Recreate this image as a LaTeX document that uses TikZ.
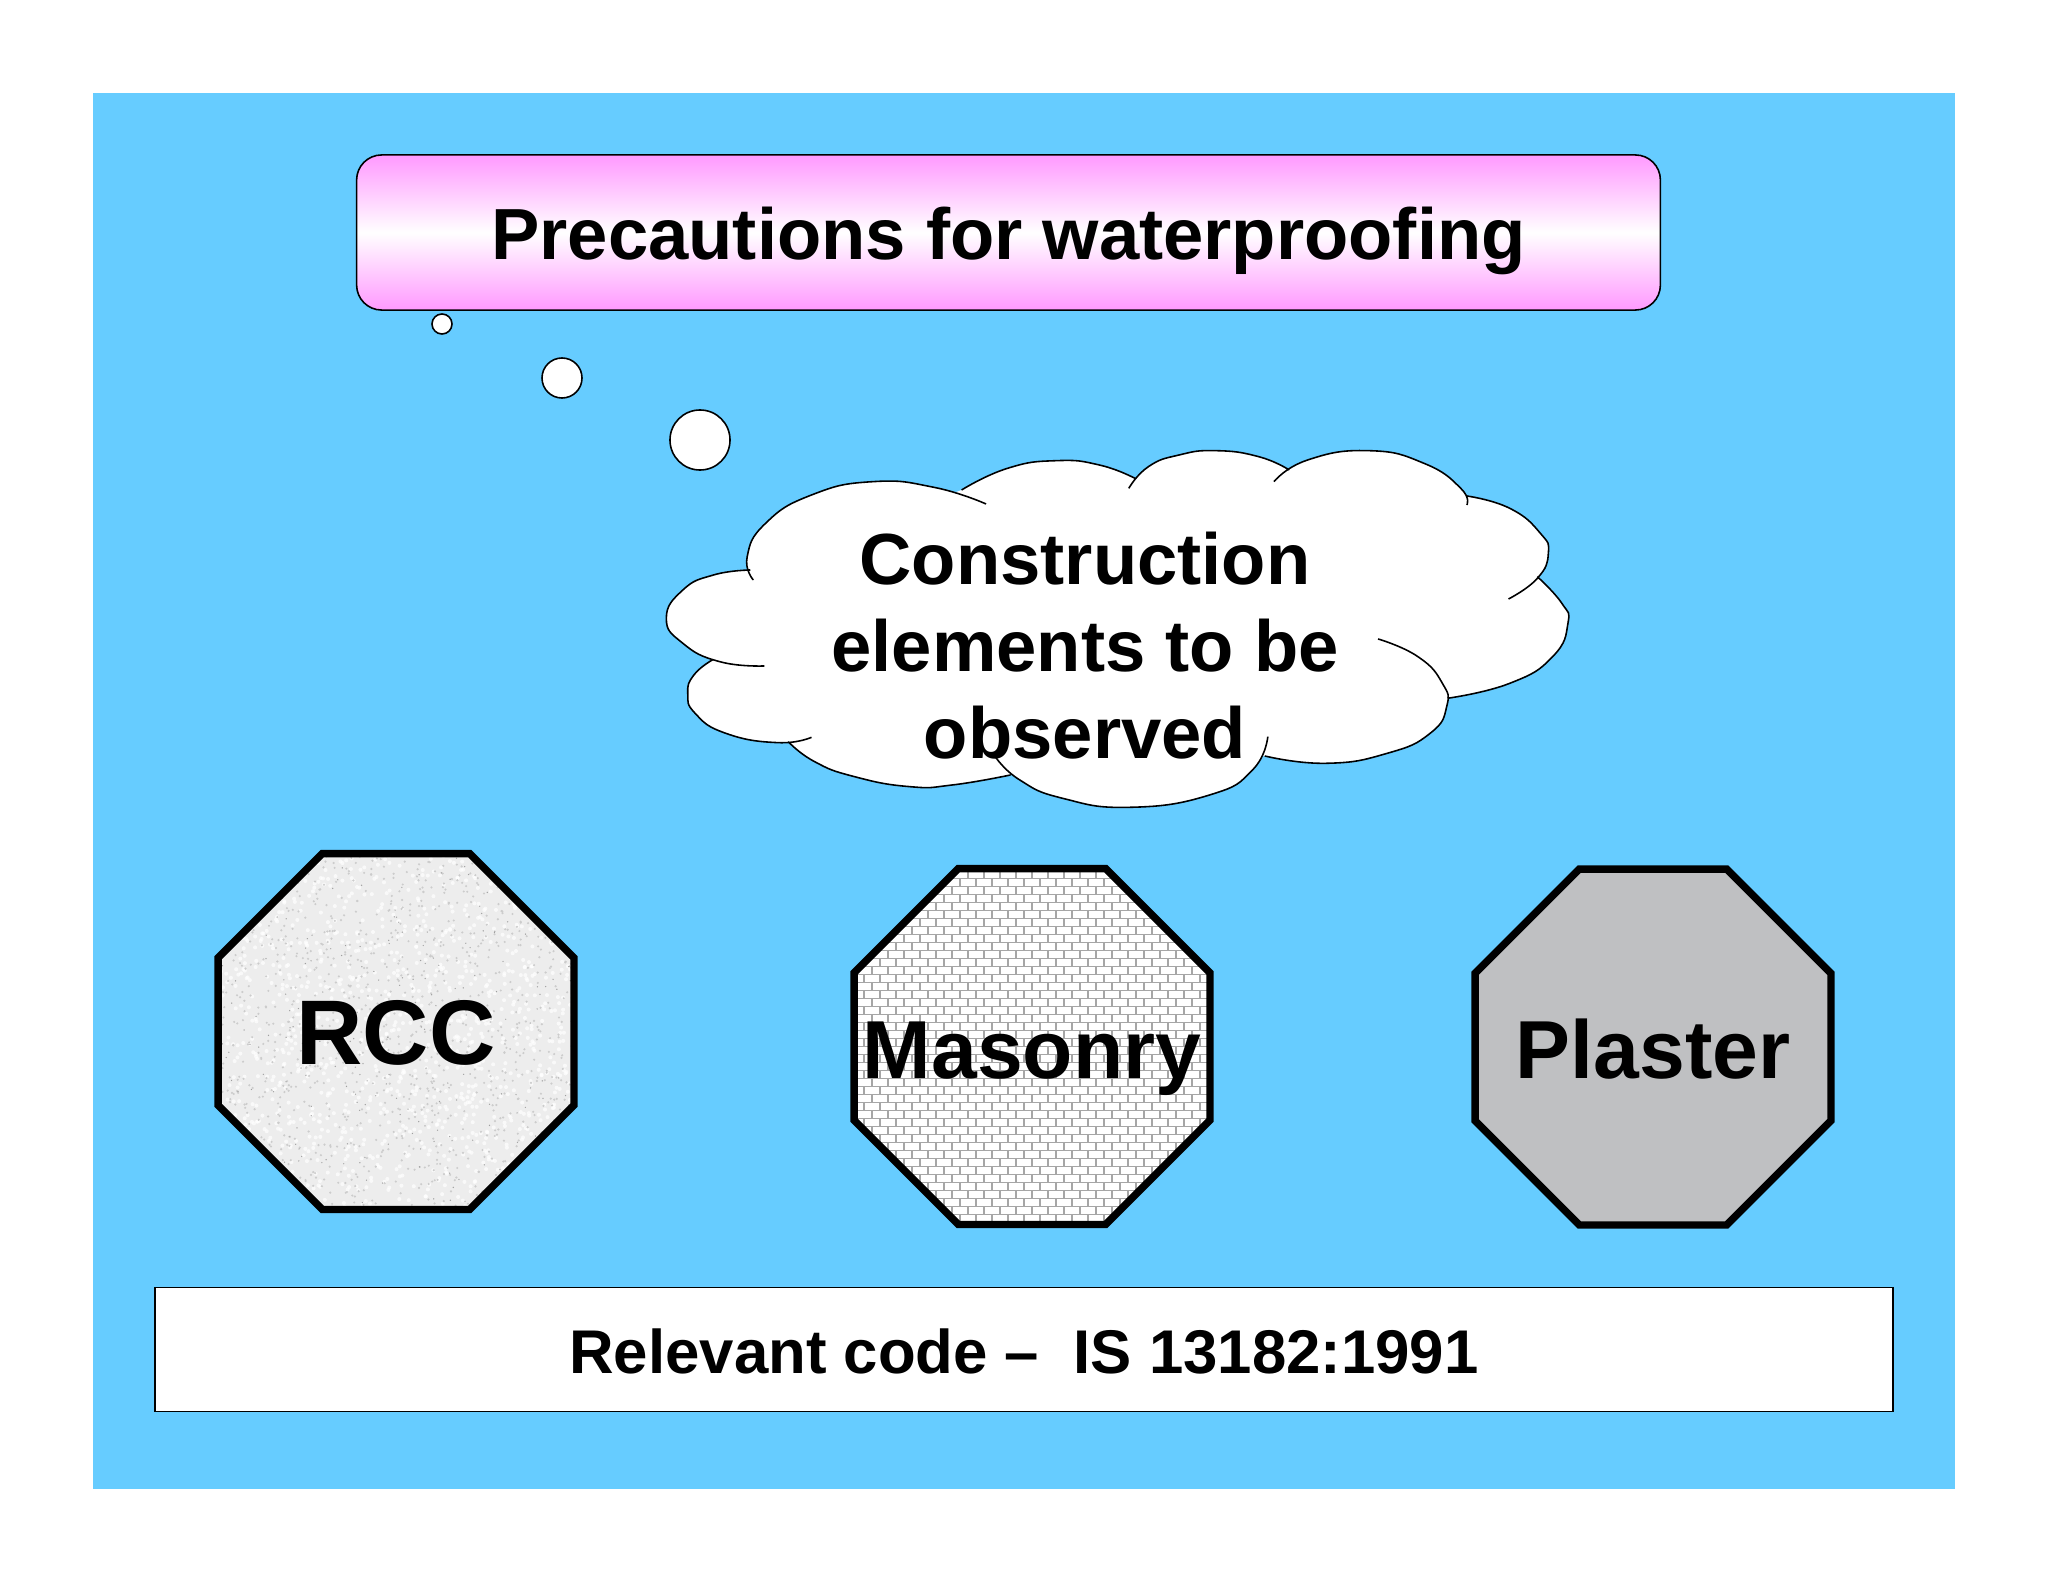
\documentclass[tikz,border=0pt]{standalone}
\usepackage{fontspec}
\setmainfont{Liberation Sans}
\usetikzlibrary{shapes.geometric}
\definecolor{slideblue}{HTML}{66CCFF}
\definecolor{titlepink}{HTML}{FF99FF}
\definecolor{plastergray}{HTML}{BFC0C2}
\definecolor{rccgray}{HTML}{EDEDED}
\definecolor{brickgray}{HTML}{A6A6A6}
\tikzset{
  outline/.style={draw=black,line width=0.45pt},
  bubble/.style={outline,circle,fill=white,inner sep=0pt},
  element/.style={draw=black,line width=2.1pt,regular polygon,regular polygon sides=8,
    minimum size=3.85cm,inner sep=0pt},
  elementtext/.style={inner sep=0pt,text height=18pt,text depth=0pt,
    font=\fontsize{23.4}{28}\selectfont\bfseries},
  brickline/.style={brickgray,line width=0.4pt},
  lobe/.style={smooth,tension=0.85}
}
% Lobes of the cloud, typed on a 1.633 x 3 grid
\newcommand{\cloudlobes}{
  plot[lobe] coordinates {(185,540) (175,470) (205,370) (280,285) (380,245) (480,262) (565,312)}
  plot[lobe] coordinates {(525,270) (600,205) (680,182) (750,195) (808,235)}
  plot[lobe] coordinates {(798,265) (830,200) (880,165) (940,152) (1010,170) (1060,210)}
  plot[lobe] coordinates {(1035,245) (1090,180) (1190,152) (1280,190) (1340,265) (1350,315)}
  plot[lobe] coordinates {(1350,288) (1420,325) (1470,400) (1483,460) (1465,535) (1418,597)}
  plot[lobe] coordinates {(1465,530) (1505,610) (1515,670) (1490,770) (1420,850) (1318,895)}
  plot[lobe] coordinates {(1205,717) (1270,770) (1310,850) (1317,920) (1290,1000) (1220,1060) (1120,1090) (1020,1068)}
  plot[lobe] coordinates {(1025,1010) (1000,1110) (930,1185) (800,1222) (690,1195) (620,1140) (580,1070)}
  plot[lobe] coordinates {(605,1125) (510,1155) (440,1160) (350,1130) (285,1085) (242,1025)}
  plot[lobe] coordinates {(280,1012) (225,1028) (140,1000) (90,940) (78,880) (88,825) (118,780)}
  plot[lobe] coordinates {(203,798) (130,785) (70,730) (43,655) (70,570) (120,525) (180,510)}
}
\begin{document}
\begin{tikzpicture}[x=0.01cm,y=-0.01cm]
  \useasboundingbox (0,0) rectangle (2048,1582);
  % Background
  \fill[white] (0,0) rectangle (2048,1582);
  \fill[slideblue] (93,93) rectangle (1955,1489);
  % Title
  \node[outline,rounded corners=0.25cm,top color=titlepink,bottom color=titlepink,middle color=white,
    minimum width=13.03cm,minimum height=1.55cm,inner sep=0pt,text height=15.6pt,text depth=0pt,
    font=\fontsize{20.6}{25}\selectfont\bfseries] (title) at (1008.5,232.5) {Precautions for waterproofing};
  % Thought bubbles
  \node[bubble,minimum size=0.2cm] (dot1) at (442,324) {};
  \node[bubble,minimum size=0.4cm] (dot2) at (562,378) {};
  \node[bubble,minimum size=0.6cm] (dot3) at (700,440) {};
  % Cloud
  \begin{scope}[shift={(640,400)},xscale=0.6125,yscale=0.3333]
    \fill[white] \cloudlobes (180,510) -- (525,270) -- (808,235) -- (1060,210) -- (1350,288) -- (1465,530) -- (1318,895) -- (1020,1068) -- (605,1125) -- (242,1025) -- (118,780) -- cycle;
    \draw[outline] \cloudlobes;
  \end{scope}
  \node[align=center,inner sep=0pt,font=\fontsize{20.6}{24.8}\selectfont\bfseries] (cloudtext) at (1085,645.5) {Construction\\elements to be\\observed};
  % Construction elements
  \node[element,fill=rccgray,path picture={
      \pgfmathsetseed{7}
      \foreach \i in {1,...,1500}
        \fill[white,opacity=0.7] ([shift={(190*rand,190*rand)}]path picture bounding box.center) circle (2);
      \foreach \i in {1,...,1300}
        \fill[gray!40] ([shift={(190*rand,190*rand)}]path picture bounding box.center) circle (1.2);
      \foreach \i in {1,...,300}
        \fill[gray!75] ([shift={(190*rand,190*rand)}]path picture bounding box.center) circle (0.7);
    }] (rcc) at (396,1031.5) {};
  \node[element,fill=white,path picture={
      \foreach \r in {-25,...,24}{
        \draw[brickline] ([shift={(-195,8*\r)}]path picture bounding box.center) -- ++(390,0);
        \pgfmathsetmacro{\off}{8*Mod(\r,2)}
        \foreach \c in {-13,...,12}
          \draw[brickline] ([shift={(16*\c+\off,8*\r)}]path picture bounding box.center) -- ++(0,8);
      }
    }] (masonry) at (1032,1046.5) {};
  \node[element,fill=plastergray] (plaster) at (1653,1047) {};
  \node[elementtext,font=\fontsize{26.1}{31}\selectfont\bfseries,text height=18.7pt] (rcclabel) at (rcc) {RCC};
  \node[elementtext] (masonrylabel) at (masonry) {Masonry};
  \node[elementtext] (plasterlabel) at (plaster) {Plaster};
  % Code reference
  \node[outline,fill=white,minimum width=17.37cm,minimum height=1.24cm,inner sep=0pt,text height=13.4pt,text depth=0pt,
    font=\fontsize{17.55}{22}\selectfont\bfseries] (code) at (1024,1349.5) {Relevant code --\ \ IS 13182:1991};
\end{tikzpicture}
\end{document}
